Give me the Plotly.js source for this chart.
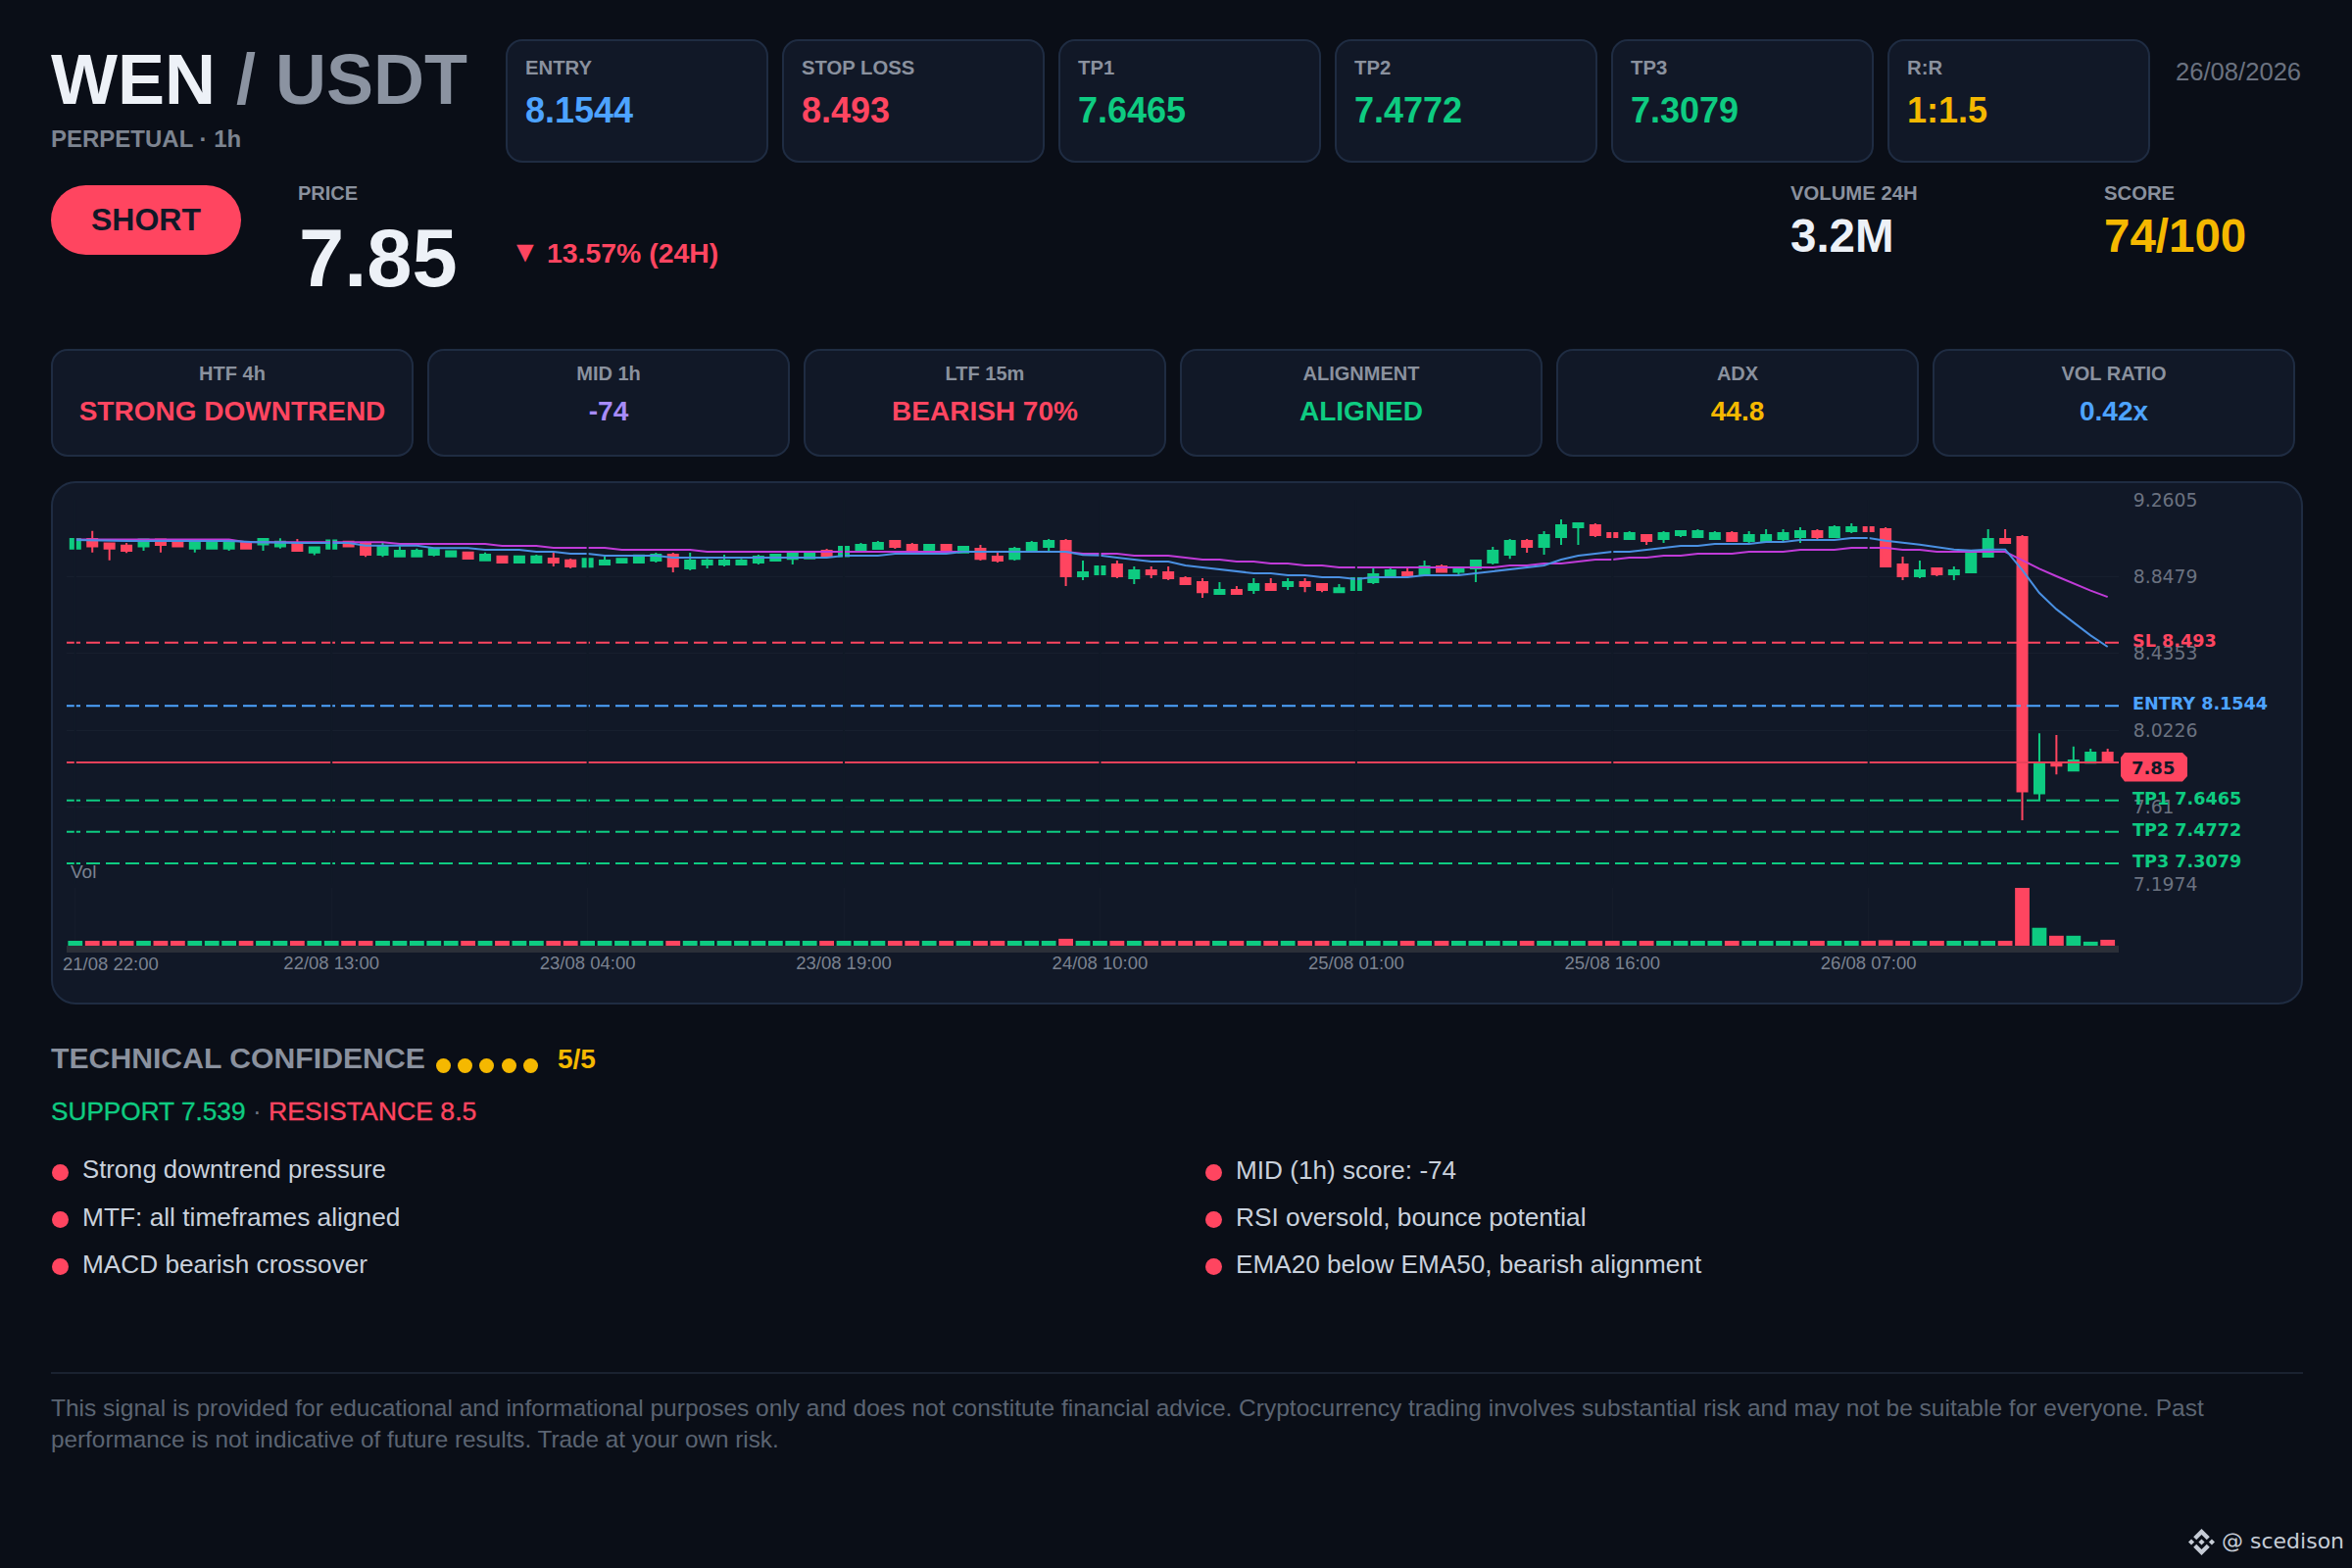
<!DOCTYPE html>
<html><head><meta charset="utf-8">
<script src="https://cdn.plot.ly/plotly-3.0.1.min.js"></script>
<style>
html,body{margin:0;padding:0;background:#0a0e17;width:2400px;height:1600px;overflow:hidden;font-family:"Liberation Sans",Arial,sans-serif}
.t{position:absolute;white-space:nowrap;line-height:1;transform:translateY(-50%)}
.c{transform:translate(-50%,-50%)}
.card{position:absolute;box-sizing:border-box;background:#111827;border:2px solid #1f2c42;border-radius:17px}
.dot{position:absolute;border-radius:50%}
#chart{position:absolute;left:52px;top:491px;width:2298px;height:534px}
</style></head><body>
<div id="ui"></div>
<div class="card" style="left:52px;top:491px;width:2298px;height:534px;border-radius:25px"></div>
<div id="chart"></div>
<script>
/* ---------- data ---------- */
const opens=[8.998,9.050,9.026,9.015,9.010,9.047,9.042,8.998,8.998,8.998,
9.029,9.021,9.010,9.029,8.977,8.998,9.036,9.029,8.966,8.956,
8.956,8.966,8.956,8.977,8.935,8.956,8.924,8.924,8.945,8.935,
8.901,8.913,8.923,8.923,8.934,8.966,8.892,8.913,8.913,8.913,
8.923,8.934,8.944,8.946,8.987,8.958,8.987,8.997,9.039,9.018,
8.987,9.018,8.978,8.997,8.955,8.944,8.987,9.008,9.039,8.850,
8.860,8.913,8.839,8.881,8.871,8.839,8.818,8.755,8.776,8.776,
8.808,8.797,8.818,8.808,8.765,8.776,8.818,8.850,8.871,8.860,
8.902,8.874,8.892,8.923,8.966,9.039,9.008,9.060,9.113,9.123,
9.081,9.050,9.071,9.050,9.071,9.061,9.050,9.082,9.040,9.040,
9.050,9.061,9.092,9.061,9.092,9.113,9.103,8.913,8.850,8.892,
8.860,8.871,8.955,9.050,9.060,7.684,7.844,7.807,7.849,7.902];
const closes=[9.050,9.010,8.998,8.987,9.047,9.019,9.010,9.033,9.033,9.033,
8.998,9.050,9.036,8.987,9.005,9.042,9.010,8.966,9.010,8.987,
8.987,8.998,8.984,8.945,8.966,8.924,8.956,8.956,8.924,8.903,
8.944,8.934,8.944,8.962,8.966,8.902,8.934,8.934,8.934,8.934,
8.955,8.966,8.976,8.976,8.955,9.008,9.018,9.029,9.008,8.987,
9.018,8.987,9.008,8.944,8.934,8.997,9.029,9.039,8.850,8.871,
8.902,8.850,8.881,8.860,8.839,8.808,8.765,8.776,8.755,8.808,
8.776,8.818,8.797,8.776,8.786,8.839,8.860,8.881,8.850,8.902,
8.874,8.892,8.934,8.987,9.039,9.008,9.071,9.123,9.134,9.071,
9.060,9.081,9.040,9.082,9.092,9.092,9.082,9.040,9.071,9.071,
9.082,9.092,9.061,9.113,9.113,9.092,8.903,8.850,8.882,8.860,
8.882,8.976,9.050,9.029,7.695,7.839,7.833,7.860,7.902,7.850];
const highs=[9.050,9.094,9.026,9.029,9.047,9.047,9.050,9.047,9.036,9.050,
9.036,9.050,9.054,9.050,9.005,9.042,9.036,9.036,9.029,9.010,
8.998,8.998,8.984,8.977,8.977,8.956,8.956,8.966,8.977,8.945,
8.944,8.955,8.944,8.962,8.976,8.976,8.976,8.944,8.966,8.944,
8.966,8.966,8.987,8.987,8.997,9.008,9.029,9.039,9.039,9.029,
9.018,9.018,9.008,9.018,8.987,9.008,9.039,9.050,9.050,8.934,
8.902,8.934,8.902,8.902,8.902,8.850,8.839,8.818,8.797,8.839,
8.839,8.839,8.839,8.808,8.808,8.839,8.902,8.902,8.892,8.934,
8.913,8.902,8.934,9.008,9.050,9.050,9.092,9.155,9.134,9.134,
9.081,9.092,9.071,9.092,9.092,9.103,9.092,9.092,9.092,9.103,
9.103,9.113,9.103,9.124,9.134,9.113,9.113,8.955,8.934,8.892,
8.903,8.976,9.103,9.103,9.071,8.006,7.997,7.935,7.923,7.923];
const lows=[8.998,8.977,8.936,8.975,8.987,8.977,9.010,8.977,8.998,8.987,
8.998,8.987,8.998,8.987,8.963,8.998,9.010,8.954,8.954,8.956,
8.956,8.956,8.956,8.945,8.935,8.924,8.924,8.924,8.903,8.892,
8.901,8.913,8.923,8.923,8.923,8.871,8.881,8.892,8.902,8.913,
8.913,8.934,8.913,8.946,8.955,8.958,8.987,8.997,8.997,8.987,
8.987,8.987,8.978,8.934,8.923,8.934,8.987,8.987,8.797,8.829,
8.860,8.839,8.808,8.839,8.829,8.808,8.734,8.755,8.755,8.755,
8.776,8.776,8.765,8.765,8.765,8.776,8.808,8.839,8.839,8.850,
8.874,8.860,8.818,8.913,8.944,8.976,8.966,9.018,9.018,9.060,
9.060,9.050,9.019,9.029,9.061,9.061,9.050,9.040,9.029,9.029,
9.040,9.029,9.050,9.061,9.082,9.092,8.903,8.829,8.839,8.850,
8.829,8.871,8.955,9.029,7.539,7.645,7.786,7.807,7.849,7.850];
const ema20=[9.045,9.042,9.039,9.039,9.039,9.039,9.039,9.039,9.039,9.039,
9.035,9.033,9.029,9.029,9.029,9.029,9.029,9.015,9.015,9.015,
9.015,9.001,9.001,9.001,8.992,8.992,8.992,8.981,8.981,8.971,
8.971,8.960,8.960,8.960,8.960,8.950,8.950,8.950,8.950,8.950,
8.950,8.950,8.950,8.950,8.950,8.960,8.960,8.960,8.971,8.971,
8.971,8.971,8.981,8.981,8.981,8.981,8.981,8.981,8.981,8.965,
8.962,8.950,8.939,8.929,8.929,8.908,8.897,8.887,8.876,8.866,
8.866,8.855,8.855,8.845,8.845,8.834,8.845,8.845,8.845,8.855,
8.855,8.855,8.866,8.876,8.887,8.897,8.908,8.939,8.960,8.971,
8.981,8.981,8.992,9.002,9.013,9.013,9.024,9.024,9.024,9.034,
9.034,9.045,9.045,9.045,9.055,9.055,9.041,9.031,9.020,9.006,
8.994,8.988,8.994,8.994,8.883,8.760,8.673,8.602,8.532,8.471];
const ema50=[9.047,9.047,9.047,9.047,9.047,9.047,9.047,9.047,9.047,9.047,
9.033,9.033,9.033,9.033,9.033,9.033,9.033,9.033,9.033,9.024,
9.024,9.024,9.024,9.024,9.024,9.013,9.013,9.013,9.003,9.003,
9.003,9.003,8.992,8.992,8.992,8.992,8.992,8.981,8.981,8.981,
8.981,8.981,8.981,8.981,8.981,8.981,8.981,8.981,8.981,8.981,
8.981,8.981,8.981,8.981,8.981,8.981,8.981,8.981,8.981,8.971,
8.971,8.971,8.960,8.960,8.960,8.950,8.939,8.939,8.929,8.929,
8.918,8.918,8.908,8.908,8.897,8.897,8.897,8.897,8.897,8.897,
8.897,8.897,8.897,8.897,8.908,8.908,8.918,8.918,8.929,8.939,
8.939,8.950,8.950,8.960,8.960,8.971,8.971,8.971,8.981,8.981,
8.981,8.992,8.992,8.992,9.002,9.002,9.002,8.992,8.992,8.981,
8.981,8.981,8.981,8.981,8.936,8.890,8.850,8.811,8.773,8.739];
const volumes=[170,170,170,170,170,170,170,170,170,170,
170,170,170,170,170,170,170,170,170,170,
170,170,170,170,170,170,170,170,170,170,
170,170,170,170,170,170,170,170,170,170,
170,170,170,170,170,170,170,170,170,170,
170,170,170,170,170,170,170,170,240,170,
170,170,170,170,170,170,170,170,170,170,
170,170,170,170,170,170,170,170,170,170,
170,170,170,170,170,170,170,170,170,170,
170,170,170,170,170,170,170,170,170,170,
170,170,170,170,170,170,190,170,170,170,
170,170,170,170,2000,620,345,345,140,205];
const xTickIdx=[0,15,30,45,60,75,90,105];
const xTickLabels=["21/08 22:00","22/08 13:00","23/08 04:00","23/08 19:00","24/08 10:00","25/08 01:00","25/08 16:00","26/08 07:00"];
const yTicks=[9.2605,8.8479,8.4353,8.0226,7.61,7.1974];
const yTickLabels=["9.2605","8.8479","8.4353","8.0226","7.61","7.1974"];
const levelNames=["SL 8.493","ENTRY 8.1544","TP1 7.6465","TP2 7.4772","TP3 7.3079"];
const levelValues=[8.493,8.1544,7.6465,7.4772,7.3079];
const lastPrice=7.85;
const topLabels=["ENTRY","STOP LOSS","TP1","TP2","TP3","R:R"];
const topValues=["8.1544","8.493","7.6465","7.4772","7.3079","1:1.5"];
const midLabels=["HTF 4h","MID 1h","LTF 15m","ALIGNMENT","ADX","VOL RATIO"];
const midValues=["STRONG DOWNTREND","-74","BEARISH 70%","ALIGNED","44.8","0.42x"];
const leftReasons=["Strong downtrend pressure","MTF: all timeframes aligned","MACD bearish crossover"];
const rightReasons=["MID (1h) score: -74","RSI oversold, bounce potential","EMA20 below EMA50, bearish alignment"];

/* ---------- styles ---------- */
const RED="#ff4560",GREEN="#0ecb81",BLUE="#4da3ff",YEL="#f5b800",PUR="#a78bfa",WHT="#edf1f7",GREY="#8a919e",DIM="#6b7280";
const topColors=[BLUE,RED,GREEN,GREEN,GREEN,YEL];
const midColors=[RED,PUR,RED,GREEN,YEL,BLUE];
const levelColors=[RED,BLUE,GREEN,GREEN,GREEN];
const leftSizes=[25.7,26.3,26.2],rightSizes=[26.15,26.25,26.15];

/* ---------- page ---------- */
const ui=document.getElementById('ui');
function T(s,x,y,size,color,bold,extra){const d=document.createElement('div');d.className='t';d.textContent=s;
 d.style.cssText=`left:${x}px;top:${y}px;font-size:${size}px;color:${color};font-weight:${bold?700:400};${extra||''}`;ui.appendChild(d);return d;}
function C(s,x,y,size,color,bold){const d=T(s,x,y,size,color,bold);d.classList.add('c');return d;}
function box(x,y,w,h,r){const d=document.createElement('div');d.className='card';d.style.cssText=`left:${x}px;top:${y}px;width:${w}px;height:${h}px;border-radius:${r}px`;ui.appendChild(d);}
function dot(cx,cy,dia,col){const d=document.createElement('div');d.className='dot';d.style.cssText=`left:${cx-dia/2}px;top:${cy-dia/2}px;width:${dia}px;height:${dia}px;background:${col}`;ui.appendChild(d);}

T("WEN",52,80.5,72,WHT,true);
T("/ USDT",241,80.5,72,"#8b93a1",true);
T("PERPETUAL · 1h",52,141.5,24,"#7d8490",true);
topLabels.forEach((l,i)=>{const x=516+i*282;box(x,40,268,126,17);T(l,x+20,69,20.3,GREY,true);T(topValues[i],x+20,113,36,topColors[i],true);});
T("26/08/2026",2220,74,25.6,DIM,false);
const pill=document.createElement('div');pill.style.cssText=`position:absolute;left:52px;top:189px;width:194px;height:71px;border-radius:36px;background:${RED}`;ui.appendChild(pill);
C("SHORT",149,224,32,"#111827",true);
T("PRICE",304,197,20,GREY,true);
T("7.85",305,263,83,WHT,true);
T("▼",521,257,30,RED,true);
T("13.57% (24H)",558,258,28.4,RED,true);
T("VOLUME 24H",1827,197,20.3,GREY,true);
T("3.2M",1827,241,47.5,WHT,true);
T("SCORE",2147,197,20.3,GREY,true);
T("74/100",2147,241,47.5,YEL,true);
midLabels.forEach((l,i)=>{const x=52+i*384;box(x,356,370,110,17);C(l,x+185,381,20,GREY,true);C(midValues[i],x+185,420,28,midColors[i],true);});
T("TECHNICAL CONFIDENCE",52,1080,30.2,GREY,true);
[452,474,496.5,519,541].forEach(x=>dot(x,1087,15,YEL));
T("5/5",569,1081,28,YEL,true);
T("SUPPORT 7.539",52,1134,26.2,GREEN,false,'-webkit-text-stroke:.35px '+GREEN+';');
T("·",258,1134,26,DIM,false);
T("RESISTANCE 8.5",274,1134,26.6,RED,false,'-webkit-text-stroke:.35px '+RED+';');
leftReasons.forEach((s,i)=>{dot(61,1196+i*48,17,RED);T(s,84,1194+i*48,leftSizes[i],"#c9d1dc",false);});
rightReasons.forEach((s,i)=>{dot(1238,1196+i*48,17,RED);T(s,1261,1194+i*48,rightSizes[i],"#c9d1dc",false);});
const hr=document.createElement('div');hr.style.cssText='position:absolute;left:52px;top:1400px;width:2298px;height:2px;background:#1a2230';ui.appendChild(hr);
T("This signal is provided for educational and informational purposes only and does not constitute financial advice. Cryptocurrency trading involves substantial risk and may not be suitable for everyone. Past",52,1437,24.5,"#5b6472",false);
T("performance is not indicative of future results. Trade at your own risk.",52,1469,24.3,"#5b6472",false);
T("@ scedison",2267,1573,22,"#c6ccd6",false,'font-family:"DejaVu Sans";');
const logo=document.createElementNS("http://www.w3.org/2000/svg","svg");
logo.setAttribute("viewBox","0 0 126.61 126.61");logo.style.cssText="position:absolute;left:2233px;top:1560px;width:27px;height:27px";
logo.innerHTML='<path fill="#c6ccd6" d="M38.73 53.2l24.59-24.58 24.6 24.6 14.3-14.31L63.32 0 24.42 38.9zM0 63.31l14.3-14.31 14.31 14.31-14.31 14.3zM38.73 73.41l24.59 24.59 24.6-24.6 14.31 14.29-.01.01-38.9 38.91-38.91-38.88-.02-.02zM98 63.31l14.3-14.31 14.31 14.3-14.31 14.32zM77.83 63.3L63.32 48.78 52.59 59.51l-1.24 1.23-2.54 2.54 14.51 14.5 14.51-14.52z"/>';
ui.appendChild(logo);

/* ---------- chart ---------- */
const idx=closes.map((_,i)=>i);
const traces=[
 {type:'bar',x:idx,y:volumes,xaxis:'x',yaxis:'y2',marker:{color:closes.map((c,i)=>c>=opens[i]?GREEN:RED),line:{width:0}},hoverinfo:'skip',showlegend:false},
 {type:'scatter',mode:'lines',x:idx,y:ema50,xaxis:'x',yaxis:'y',line:{color:'#c03bd8',width:2},hoverinfo:'skip',showlegend:false},
 {type:'scatter',mode:'lines',x:idx,y:ema20,xaxis:'x',yaxis:'y',line:{color:'#4a90e2',width:2},hoverinfo:'skip',showlegend:false},
 {type:'candlestick',x:idx,open:opens,high:highs,low:lows,close:closes,xaxis:'x',yaxis:'y',whiskerwidth:0,
  increasing:{line:{color:GREEN,width:2},fillcolor:GREEN},decreasing:{line:{color:RED,width:2},fillcolor:RED},
  hoverinfo:'skip',showlegend:false}
];
const shapes=[];
levelValues.forEach((v,i)=>shapes.push({type:'line',xref:'paper',x0:0,x1:1,yref:'y',y0:v,y1:v,layer:'above',line:{color:levelColors[i],width:2,dash:'14px,6px'}}));
shapes.push({type:'line',xref:'paper',x0:0,x1:1,yref:'y',y0:lastPrice,y1:lastPrice,layer:'above',line:{color:'#e8415a',width:2}});
xTickIdx.forEach(v=>shapes.push({type:'line',xref:'x',x0:v,x1:v,yref:'y',y0:yTicks[5],y1:yTicks[0],layer:'above',line:{color:'#111927',width:2}}));
shapes.push({type:'path',xref:'paper',xsizemode:'pixel',xanchor:1,yref:'y',ysizemode:'pixel',yanchor:lastPrice,layer:'above',
 fillcolor:RED,line:{width:0},path:'M6,10 L65,10 L70,5 L70,-14 L65,-19.5 L6,-19.5 L2,-14 L2,5 Z'});
const annotations=levelNames.map((s,i)=>({xref:'paper',x:1,xanchor:'left',xshift:12,yref:'y',y:levelValues[i],yanchor:'middle',yshift:2,text:s,showarrow:false,
 font:{family:'DejaVu Sans',size:17.6,color:levelColors[i],weight:700}}));
annotations.push({xref:'paper',x:1,xanchor:'center',xshift:35,yref:'y',y:lastPrice,yanchor:'middle',yshift:-6,text:String(lastPrice),showarrow:false,font:{family:'DejaVu Sans',size:18,color:'#111827',weight:700}});
annotations.push({xref:'paper',x:0,xanchor:'left',xshift:2,yref:'paper',y:0.167,yanchor:'middle',text:'Vol',showarrow:false,font:{family:'Liberation Sans',size:19,color:'#7b8290'}});
annotations.push({xref:'x',x:xTickIdx[0],xanchor:'center',xshift:36,yref:'paper',y:0,yanchor:'middle',yshift:-18,text:xTickLabels[0],showarrow:false,font:{family:'Liberation Sans',size:18.5,color:'#7b8290'}});
const layout={
 width:2298,height:534,autosize:false,
 margin:{l:16,r:188,t:19,b:60,pad:0},
 paper_bgcolor:'rgba(0,0,0,0)',plot_bgcolor:'rgba(0,0,0,0)',
 showlegend:false,dragmode:false,boxgap:0.18,bargap:0.15,
 font:{family:'Liberation Sans',color:'#7b8290'},
 xaxis:{type:'linear',anchor:'y2',range:[-0.505,119.65],rangeslider:{visible:false},tickmode:'array',tickvals:xTickIdx,
  ticktext:xTickLabels.map((s,i)=>i?s:''),showgrid:true,gridcolor:'#151c2a',gridwidth:1,zeroline:false,
  showline:true,linecolor:'#2b2f38',linewidth:7,ticks:'',ticklabelstandoff:-5,tickfont:{family:'Liberation Sans',size:18.5,color:'#7b8290'}},
 yaxis:{domain:[0.1385,1],anchor:'x',range:[yTicks[5],yTicks[0]],side:'right',tickmode:'array',tickvals:yTicks,ticktext:yTickLabels,
  showgrid:true,gridcolor:'#171f2e',gridwidth:1,zeroline:false,showline:false,ticks:'outside',ticklen:10,tickcolor:'rgba(0,0,0,0)',
  tickfont:{family:'DejaVu Sans',size:18.8,color:'#6b7280'}},
 yaxis2:{domain:[0,0.1297],anchor:'x',range:[0,2000],showgrid:false,zeroline:false,showline:false,showticklabels:false,ticks:''},
 shapes,annotations
};
Plotly.newPlot('chart',traces,layout,{staticPlot:true,displayModeBar:false,responsive:false});
</script>
</body></html>
